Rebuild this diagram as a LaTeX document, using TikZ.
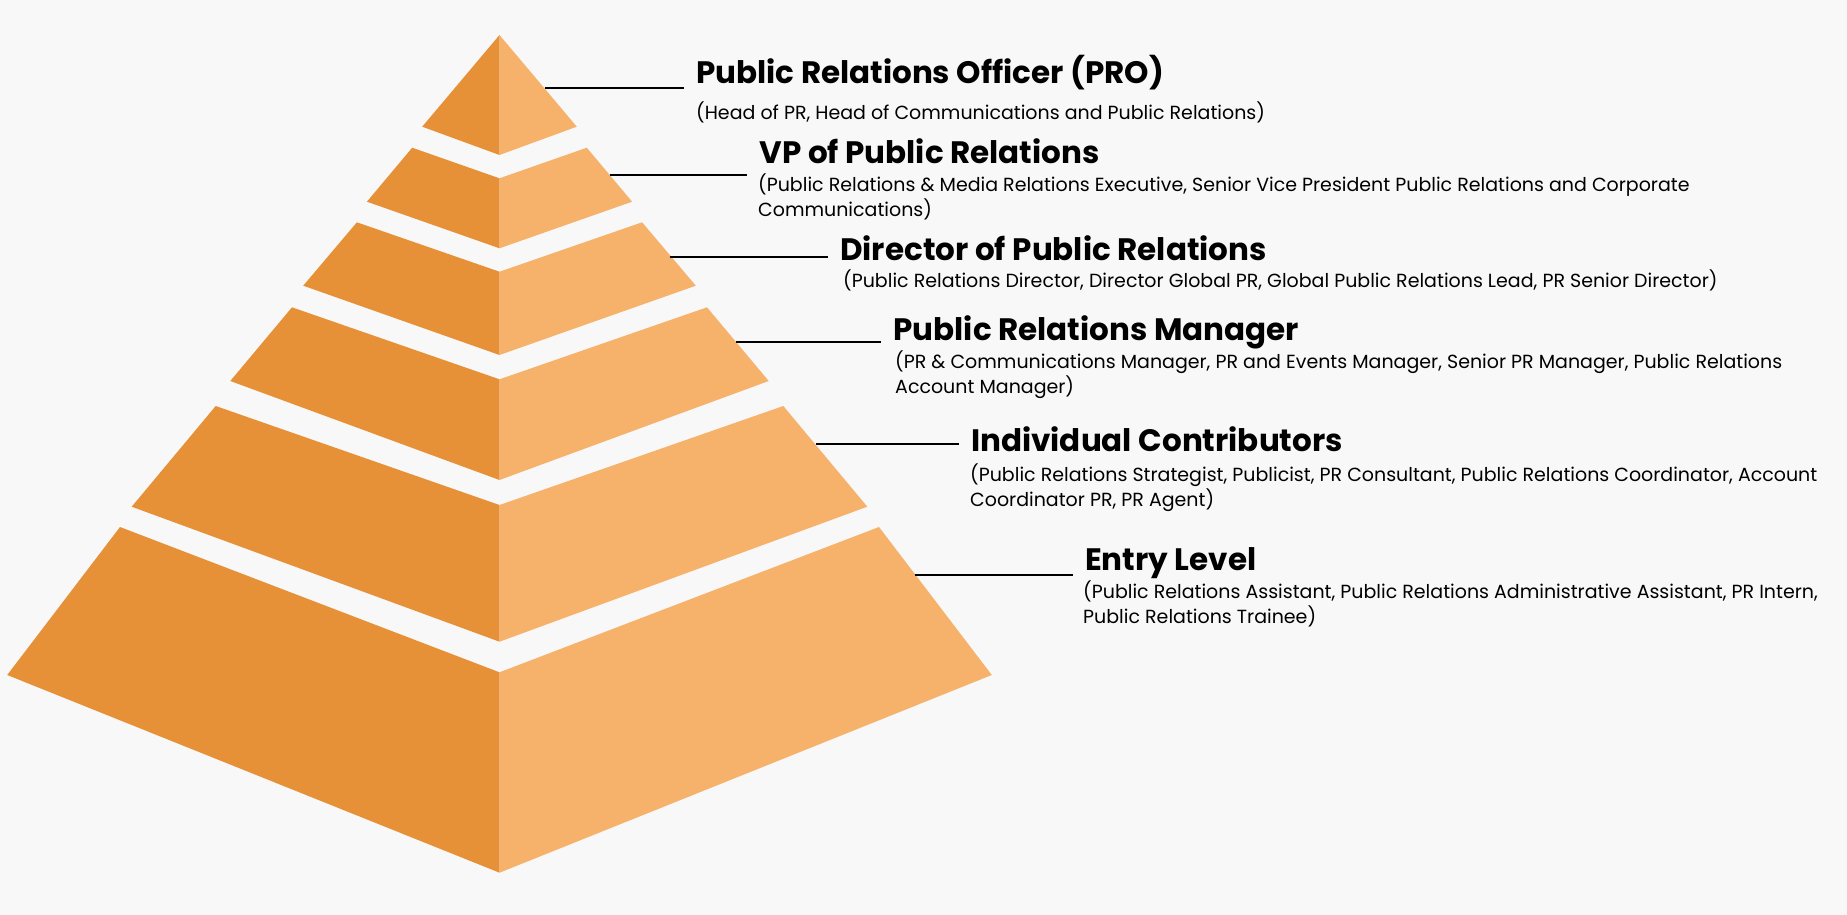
\documentclass[tikz,border=0pt]{standalone}
\usepackage{fontspec}
\setmainfont{Poppins}
\usetikzlibrary{positioning}

\definecolor{pyrdark}{HTML}{E69138}
\definecolor{pyrlight}{HTML}{F6B26B}
\definecolor{bggray}{HTML}{F8F8F8}

\begin{document}
\begin{tikzpicture}[x=1pt,y=-1pt,
    title/.style={anchor=base west, inner xsep=12pt, inner ysep=0pt, font=\fontsize{31}{36}\selectfont\bfseries},
    subtitle/.style={anchor=base west, inner sep=0pt, align=left, font=\fontsize{19}{25}\selectfont},
    link/.style={line width=2pt, black}]
                % Background
                \fill[bggray] (0,0) rectangle (1847,915);

                % Tiers: top y / top half width / top notch / bottom y / bottom half width / bottom notch
                \foreach \ty/\tw/\tc/\by/\bw/\bc in {35/0/35/126.7/77.3/155,
                    147.7/87.3/178.3/201.7/132.6/248.3,
                    222.3/142.6/271.7/285.7/196.3/355,
                    307.3/207.5/379.3/381/269.2/480,
                    406/283.8/505/506.7/367.8/641.7,
                    527/379.5/672.3/675/492.3/872.7}{
                    \fill[pyrdark] (499.5-\tw,\ty) -- (499.5,\tc) -- (499.5,\bc) -- (499.5-\bw,\by) -- cycle;
                    \fill[pyrlight] (499.5+\tw,\ty) -- (499.5,\tc) -- (499.5,\bc) -- (499.5+\bw,\by) -- cycle;
                }

                % Edge points
                \coordinate (e1) at (544.7,88.3);
                \coordinate (e2) at (609.7,175);
                \coordinate (e3) at (669.7,256.7);
                \coordinate (e4) at (736.3,341.7);
                \coordinate (e5) at (816.3,444.3);
                \coordinate (e6) at (914.7,574.5);

                % Titles
                \node[title] (t1) at (684,83.3) {Public Relations Officer (PRO)};
                \node[title] (t2) at (747.3,163.3) {VP of Public Relations};
                \node[title] (t3) at (828,260) {Director of Public Relations};
                \node[title] (t4) at (881.3,340) {Public Relations Manager};
                \node[title] (t5) at (959,451.7) {Individual Contributors};
                \node[title] (t6) at (1073,570) {Entry Level};

                % Details (base = last line)
                \node[subtitle] (s1) at (696,120) {(Head of PR, Head of Communications and Public Relations)};
                \node[subtitle] (s2) at (758,216.7) {(Public Relations \& Media Relations Executive, Senior Vice President Public Relations and Corporate\\Communications)};
                \node[subtitle] (s3) at (843,287.5) {(Public Relations Director, Director Global PR, Global Public Relations Lead, PR Senior Director)};
                \node[subtitle] (s4) at (895,393.3) {(PR \& Communications Manager, PR and Events Manager, Senior PR Manager, Public Relations\\Account Manager)};
                \node[subtitle] (s5) at (970,506) {(Public Relations Strategist, Publicist, PR Consultant, Public Relations Coordinator, Account\\Coordinator PR, PR Agent)};
                \node[subtitle] (s6) at (1083,623.3) {(Public Relations Assistant, Public Relations Administrative Assistant, PR Intern,\\Public Relations Trainee)};

                % Links
                \foreach \i in {1,...,6}
                    \draw[link] (e\i) -- (e\i -| t\i.west);
            \end{tikzpicture}
\end{document}
